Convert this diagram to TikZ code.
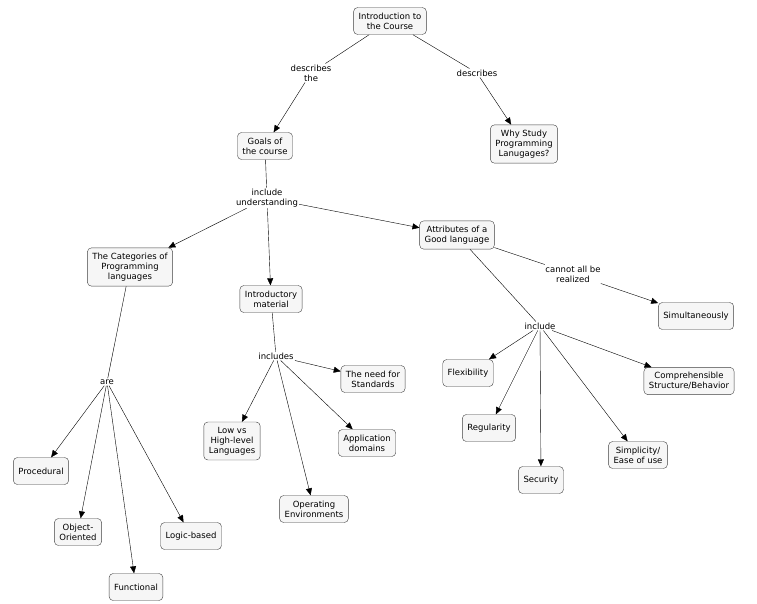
\documentclass[tikz,border=0pt]{standalone}
\usepackage{fontspec}
\setmainfont{DejaVu Sans}
\usetikzlibrary{arrows.meta}
\tikzstyle{concept}=[rectangle, rounded corners=4pt, draw=black!75, fill=cyan!4!gray!8, font=\fontsize{8.5}{10}\selectfont, align=center, inner sep=5pt, minimum height=27pt]
\tikzstyle{link}=[font=\fontsize{8.5}{10}\selectfont, align=center, inner sep=1pt, fill=white]
\tikzstyle{tran}=[draw, -{Triangle[length=7pt,width=6pt]}]
\begin{document}
\begin{tikzpicture}[x=1pt, y=-1pt]
\useasboundingbox (0,0) rectangle (757,603);

\node[concept] (intro) at (390,21) {Introduction to\\the Course};
\node[concept] (goals) at (265,146) {Goals of\\the course};
\node[concept] (why) at (524,144) {Why Study\\Programming\\Lanugages?};
\node[concept] (attr) at (457,235) {Attributes of a\\Good language};
\node[concept] (cat) at (130,267) {The Categories of\\Programming\\languages};
\node[concept] (intromat) at (271,299) {Introductory\\material};
\node[concept] (simul) at (696,316) {Simultaneously};
\node[concept] (need) at (373,379) {The need for\\Standards};
\node[concept] (flex) at (468,373) {Flexibility};
\node[concept] (compr) at (689,381) {Comprehensible\\Structure/Behavior};
\node[concept] (low) at (232,441) {Low vs\\High-level\\Languages};
\node[concept] (app) at (367,443) {Application\\domains};
\node[concept] (reg) at (489,428) {Regularity};
\node[concept] (simp) at (638,455) {Simplicity/\\Ease of use};
\node[concept] (sec) at (541,480) {Security};
\node[concept] (proc) at (41,471) {Procedural};
\node[concept] (oo) at (78,532) {Object-\\Oriented};
\node[concept] (logic) at (191,536) {Logic-based};
\node[concept] (os) at (314,509) {Operating\\Environments};
\node[concept] (func) at (136,587) {Functional};

\node[link] (ldesc1) at (311,73) {describes\\the};
\node[link] (ldesc2) at (477,73) {describes};
\node[link] (linc) at (267,198) {include\\understanding};
\node[link] (lcannot) at (573,274) {cannot all be\\realized};
\node[link] (linc2) at (540,326) {include};
\node[link] (lincs) at (276,356) {includes};
\node[link] (lare) at (107,382) {are};

\draw (intro) -- (ldesc1);
\draw (intro) -- (ldesc2);
\draw[tran] (ldesc1) -- (goals);
\draw[tran] (ldesc2) -- (why);
\draw (goals) -- (linc);
\draw[tran] (linc) -- (cat);
\draw[tran] (linc) -- (intromat);
\draw[tran] (linc) -- (attr);
\draw (attr) -- (lcannot);
\draw[tran] (lcannot) -- (simul);
\draw (attr) -- (linc2);
\foreach \t in {flex, reg, sec, simp, compr}
  \draw[tran] (linc2) -- (\t);
\draw (intromat) -- (lincs);
\foreach \t in {need, low, app, os}
  \draw[tran] (lincs) -- (\t);
\draw (cat) -- (lare);
\foreach \t in {proc, oo, func, logic}
  \draw[tran] (lare) -- (\t);

\end{tikzpicture}
\end{document}
